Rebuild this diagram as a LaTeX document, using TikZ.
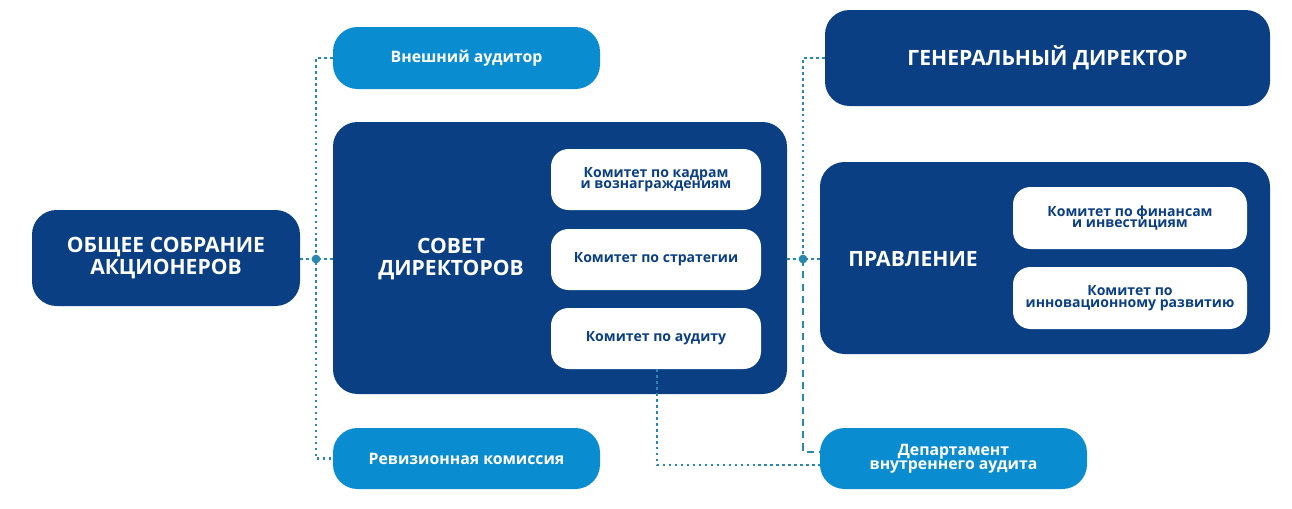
\documentclass[tikz,border=0pt]{standalone}
\usepackage{fontspec}
\setmainfont{Open Sans}
\definecolor{navy}{HTML}{0B3F84}
\definecolor{lblue}{HTML}{0A8DD0}
\definecolor{dotc}{HTML}{2A88AE}
\begin{document}
\begin{tikzpicture}[x=0.02cm,y=-0.02cm,
 box/.style={rounded corners=14pt,inner sep=0pt,align=center,font=\bfseries},
 dk/.style={box,fill=navy,text=white},
 lb/.style={box,fill=lblue,text=white,font=\bfseries\small},
 wb/.style={box,fill=white,text=navy,font=\bfseries\scriptsize,rounded corners=10pt},
 dl/.style={dotc,line width=1.4pt,dotted},
 ds/.style={dotc,line width=1.2pt,dash pattern=on 4pt off 3pt}]
\useasboundingbox (0,0) rectangle (1292,508);
\newcommand{\bx}[6]{\node[#1,minimum width=#4*0.02cm,minimum height=#5*0.02cm] (#6) at (#2,#3) {};}
% boxes
\bx{dk}{166}{258}{268}{96}{osa}
\node[text=white,font=\bfseries\large,align=center] at (osa) {ОБЩЕЕ СОБРАНИЕ\\[-2pt]АКЦИОНЕРОВ};
\bx{lb}{466.5}{58}{267}{62}{ext}
\node[text=white,font=\bfseries\small] at (ext) {Внешний аудитор};
\bx{dk}{560}{258}{454}{272}{sd}
\node[text=white,font=\bfseries\large,align=center] (sdt) at (451,259) {СОВЕТ\\[-2pt]ДИРЕКТОРОВ};
\bx{wb}{656}{179.5}{210}{61}{k1}
\node[text=navy,font=\bfseries\footnotesize,align=center] at (k1) {Комитет по кадрам\\[-3pt]и вознаграждениям};
\bx{wb}{656}{259.5}{210}{61}{k2}
\node[text=navy,font=\bfseries\footnotesize] at (k2) {Комитет по стратегии};
\bx{wb}{656}{338.5}{210}{61}{k3}
\node[text=navy,font=\bfseries\footnotesize] at (k3) {Комитет по аудиту};
\bx{lb}{466.5}{458.5}{267}{61}{rev}
\node[text=white,font=\bfseries\small] at (rev) {Ревизионная комиссия};
\bx{dk}{1047.5}{58}{445}{96}{gd}
\node[text=white,font=\bfseries\large] at (gd) {ГЕНЕРАЛЬНЫЙ ДИРЕКТОР};
\bx{dk}{1045}{258}{450}{192}{pr}
\node[text=white,font=\bfseries\large] at (913,259) {ПРАВЛЕНИЕ};
\bx{wb}{1130}{218}{234}{62}{k4}
\node[text=navy,font=\bfseries\footnotesize,align=center] at (k4) {Комитет по финансам\\[-3pt]и инвестициям};
\bx{wb}{1130}{298}{234}{62}{k5}
\node[text=navy,font=\bfseries\footnotesize,align=center] at (k5) {Комитет по\\[-3pt]инновационному развитию};
\bx{lb}{953.5}{458.5}{267}{61}{dep}
\node[text=white,font=\bfseries\small,align=center] at (dep) {Департамент\\[-3pt]внутреннего аудита};
% connectors
\coordinate (jl) at (316,259);
\coordinate (jr) at (803,259);
\draw[dl] (osa.east|-jl) -- (sd.west|-jl);
\draw[dl] (ext.west) -| (jl) |- (rev.west);
\fill[dotc] (jl) circle (2.5pt);
\draw[dl] (sd.east|-jr) -- (pr.west|-jr);
\draw[dl] (gd.west) -| (jr);
\fill[dotc] (jr) circle (2.5pt);
\draw[ds] (jr) |- (dep.west|-0,452);
\draw[dl] (k3.south-|657,0) |- (dep.west|-0,465);
\end{tikzpicture}
\end{document}
